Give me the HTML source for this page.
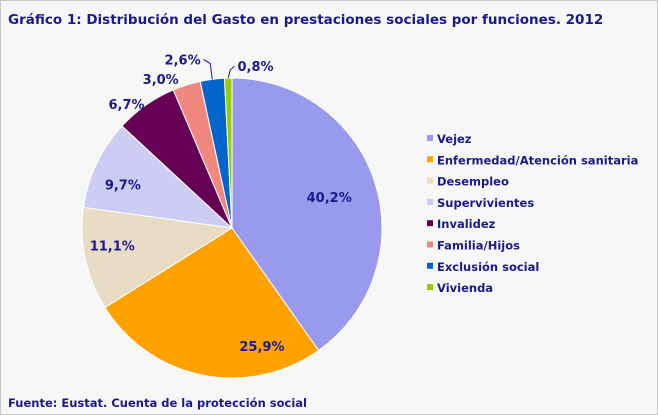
<!DOCTYPE html>
<html><head><meta charset="utf-8"><style>
body{margin:0;width:658px;height:415px;background:#fff;overflow:hidden;font-family:"DejaVu Sans","Liberation Sans",sans-serif;}
#frame{position:absolute;left:0;top:0;width:656px;height:413px;border:1px solid #c8c8c8;background:#f7f7f7;}
svg{position:absolute;left:0;top:0}
</style></head><body>
<div id="frame"></div>
<svg id="chart" width="658" height="415">
<text x="8" y="24" font-size="13.5" font-weight="bold" fill="#1a1a8c">Gráfico 1: Distribución del Gasto en prestaciones sociales por funciones. 2012</text>
<text x="8" y="407" font-size="11.5" font-weight="bold" fill="#1a1a8c">Fuente: Eustat. Cuenta de la protección social</text>
<g id="slices"></g><g id="labels"></g><g id="legend"></g>
</svg>
<script>
const categories=["Vejez","Enfermedad/Atención sanitaria","Desempleo","Supervivientes","Invalidez","Familia/Hijos","Exclusión social","Vivienda"];
const values=[40.2,25.9,11.1,9.7,6.7,3.0,2.6,0.8];
const valueLabels=["40,2%","25,9%","11,1%","9,7%","6,7%","3,0%","2,6%","0,8%"];
const colors=["#9999ee","#ffa200","#e8dcc4","#ccccf4","#660055","#f08880","#0066cc","#99cc00"];
const NS="http://www.w3.org/2000/svg";
const cx=232,cy=228,r=150;
const labelShift=[[0,0],[50,18],[-20,-4],[-17,0],[-10,12],[-21,9],[-12,8],[14,16]];
const total=values.reduce((a,b)=>a+b,0);
function ang(v){return v/total*2*Math.PI;}
function pt(a,rr){return [cx+rr*Math.sin(a),cy-rr*Math.cos(a)];}
const gS=document.getElementById('slices'),gL=document.getElementById('labels'),gG=document.getElementById('legend');
let acc=0;
values.forEach((v,i)=>{
 const a0=ang(acc),a1=ang(acc+v);acc+=v;
 const p0=pt(a0,r),p1=pt(a1,r);
 const p=document.createElementNS(NS,'path');
 p.setAttribute('d',`M${cx},${cy}L${p0[0]},${p0[1]}A${r},${r} 0 ${a1-a0>Math.PI?1:0} 1 ${p1[0]},${p1[1]}Z`);
 p.setAttribute('fill',colors[i]);p.setAttribute('stroke','#fff');p.setAttribute('stroke-width','1');
 
 
 gS.appendChild(p);
 const am=(a0+a1)/2;
 let lr=v>8?r*0.68:r+16;
 let q=pt(am,lr);
 if(v<2.8){q=pt(am,r+28);q[0]+=(i==6?-14:14);}
 q[0]+=labelShift[i][0];q[1]+=labelShift[i][1];
 const t=document.createElementNS(NS,'text');
 t.setAttribute('x',q[0]);t.setAttribute('y',q[1]+5);t.setAttribute('text-anchor','middle');
 t.setAttribute('font-size','13');t.setAttribute('font-weight','bold');t.setAttribute('fill','#1a1a8c');
 t.textContent=valueLabels[i];
 
 
 gL.appendChild(t);
 if(v<2.8){
  const e=pt(am,r),l=document.createElementNS(NS,'polyline');
  const ex=q[0]+(i==6?21:-21);
  l.setAttribute('points',`${e[0]},${e[1]} ${e[0]+(i==6?-2:2)},${q[1]+4} ${ex},${q[1]}`);
  l.setAttribute('fill','none');l.setAttribute('stroke','#1a1a8c');
  
  
  gL.appendChild(l);
 }
 const y=140+i*21.3;
 const s=document.createElementNS(NS,'rect');
 s.setAttribute('x',427);s.setAttribute('y',y-5);s.setAttribute('width',6);s.setAttribute('height',6);s.setAttribute('fill',colors[i]);
 
 
 gG.appendChild(s);
 const lt=document.createElementNS(NS,'text');
 lt.setAttribute('x',437);lt.setAttribute('y',y+3);lt.setAttribute('font-size','11.5');lt.setAttribute('font-weight','bold');lt.setAttribute('fill','#1a1a8c');
 lt.textContent=categories[i];
 
 
 gG.appendChild(lt);
});
</script>
</body></html>
